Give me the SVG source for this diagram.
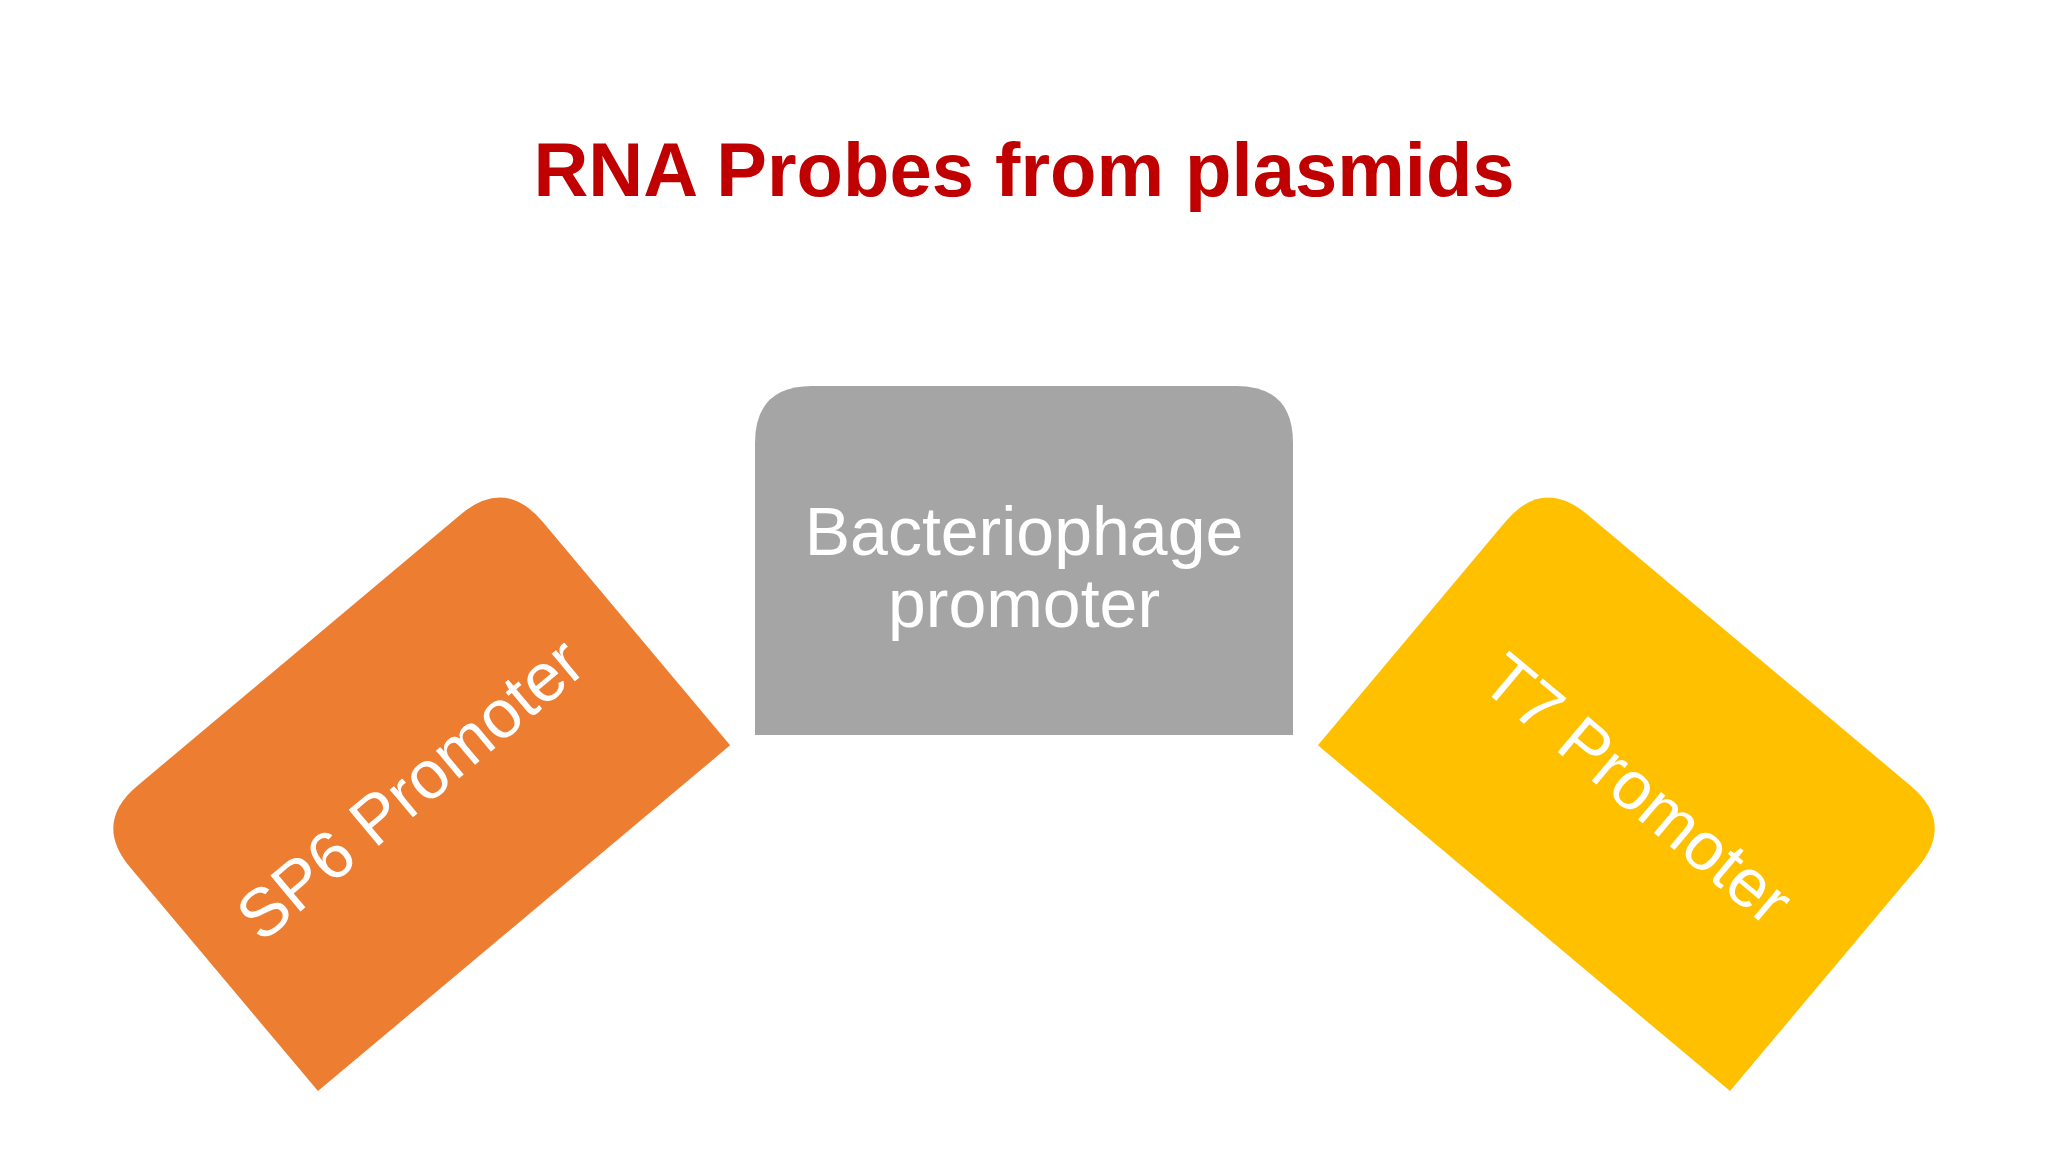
<svg xmlns="http://www.w3.org/2000/svg" width="2048" height="1152" viewBox="0 0 2048 1152">
<style>
.lbl{font-family:"Liberation Sans",Arial,sans-serif;fill:#fff;font-size:68px;text-anchor:middle}
</style>
<defs>
<path id="tile" d="M0,350 V58 Q0,0 58,0 H480 Q538,0 538,58 V350 Z"/>
</defs>
<rect width="2048" height="1152" fill="#fff"/>
<text x="1024" y="196" font-family="Liberation Sans,Arial,sans-serif" font-weight="bold" font-size="76" fill="#C00000" text-anchor="middle">RNA Probes from plasmids</text>
<g id="bacteriophage">
<path d="M755,735 V443 Q755,386 812,386 H1236 Q1293,386 1293,443 V735 Z" fill="#A5A5A5"/>
<text class="lbl" x="1024" y="555">Bacteriophage</text>
<text class="lbl" x="1024" y="627">promoter</text>
</g>
<g id="sp6">
<use href="#tile" fill="#ED7D31" transform="translate(93,823) rotate(-40)"/>
<text class="lbl" transform="translate(411,790) rotate(-40)" y="22">SP6 Promoter</text>
</g>
<g id="t7">
<g transform="translate(2048,0) scale(-1,1)"><use href="#tile" fill="#FFC000" transform="translate(93,823) rotate(-40)"/></g>
<text class="lbl" transform="translate(1637,790) rotate(40)" y="22">T7 Promoter</text>
</g>
<g id="connectors"/>
</svg>
